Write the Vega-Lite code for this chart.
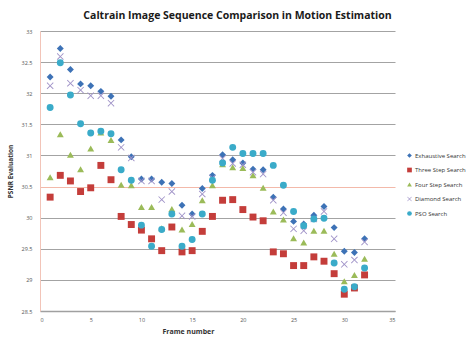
{
  "$schema": "https://vega.github.io/schema/vega-lite/v6.json",
  "width": 355,
  "height": 280,
  "autosize": {"type": "none"},
  "padding": {"left": 40, "top": 31, "right": 79, "bottom": 34},
  "background": "white",
  "title": {
    "text": "Caltrain Image Sequence Comparison in Motion Estimation",
    "font": "Open Sans",
    "fontSize": 10.5,
    "fontWeight": "bold",
    "color": "#1a1a1a",
    "anchor": "middle",
    "dx": 20,
    "offset": 8
  },
  "config": {
    "view": {"stroke": null},
    "font": "Open Sans"
  },
  "datasets": {
    "wide": [
      {"frame": 1, "e": 32.26, "t": 30.33, "f": 30.65, "d": 32.12, "p": 31.77},
      {"frame": 2, "e": 32.72, "t": 30.68, "f": 31.34, "d": 32.59, "p": 32.49},
      {"frame": 3, "e": 32.38, "t": 30.59, "f": 31.01, "d": 32.16, "p": 31.97},
      {"frame": 4, "e": 32.15, "t": 30.42, "f": 30.78, "d": 32.05, "p": 31.51},
      {"frame": 5, "e": 32.12, "t": 30.48, "f": 31.11, "d": 31.96, "p": 31.36},
      {"frame": 6, "e": 32.03, "t": 30.84, "f": 31.37, "d": 31.96, "p": 31.39},
      {"frame": 7, "e": 31.95, "t": 30.61, "f": 31.25, "d": 31.84, "p": 31.35},
      {"frame": 8, "e": 31.25, "t": 30.02, "f": 30.53, "d": 31.13, "p": 30.77},
      {"frame": 9, "e": 30.98, "t": 29.89, "f": 30.52, "d": 30.96, "p": 30.60},
      {"frame": 10, "e": 30.62, "t": 29.80, "f": 30.17, "d": 30.59, "p": 29.88},
      {"frame": 11, "e": 30.62, "t": 29.66, "f": 30.17, "d": 30.59, "p": 29.54},
      {"frame": 12, "e": 30.57, "t": 29.47, "f": 29.83, "d": 30.29, "p": 29.81},
      {"frame": 13, "e": 30.55, "t": 29.85, "f": 30.14, "d": 30.42, "p": 30.06},
      {"frame": 14, "e": 30.20, "t": 29.45, "f": 29.81, "d": 30.03, "p": 29.54},
      {"frame": 15, "e": 30.06, "t": 29.47, "f": 29.90, "d": 30.02, "p": 29.65},
      {"frame": 16, "e": 30.47, "t": 29.78, "f": 30.28, "d": 30.38, "p": 30.06},
      {"frame": 17, "e": 30.68, "t": 30.02, "f": 30.52, "d": 30.64, "p": 30.60},
      {"frame": 18, "e": 31.01, "t": 30.28, "f": 30.86, "d": 30.95, "p": 30.88},
      {"frame": 19, "e": 30.93, "t": 30.29, "f": 30.81, "d": 30.87, "p": 31.13},
      {"frame": 20, "e": 30.88, "t": 30.13, "f": 30.80, "d": 30.85, "p": 31.03},
      {"frame": 21, "e": 30.78, "t": 30.01, "f": 30.68, "d": 30.73, "p": 31.03},
      {"frame": 22, "e": 30.77, "t": 29.95, "f": 30.48, "d": 30.70, "p": 31.03},
      {"frame": 23, "e": 30.33, "t": 29.45, "f": 30.10, "d": 30.28, "p": 30.84},
      {"frame": 24, "e": 30.14, "t": 29.42, "f": 29.97, "d": 30.08, "p": 30.52},
      {"frame": 25, "e": 29.94, "t": 29.23, "f": 29.67, "d": 29.82, "p": 30.10},
      {"frame": 26, "e": 29.90, "t": 29.23, "f": 29.60, "d": 29.79, "p": 29.87},
      {"frame": 27, "e": 30.04, "t": 29.37, "f": 29.79, "d": 29.98, "p": 29.98},
      {"frame": 28, "e": 30.18, "t": 29.30, "f": 29.79, "d": 30.10, "p": 29.99},
      {"frame": 29, "e": 29.84, "t": 29.10, "f": 29.42, "d": 29.66, "p": 29.27},
      {"frame": 30, "e": 29.46, "t": 28.77, "f": 28.98, "d": 29.25, "p": 28.85},
      {"frame": 31, "e": 29.44, "t": 28.87, "f": 29.08, "d": 29.32, "p": 28.89},
      {"frame": 32, "e": 29.66, "t": 29.08, "f": 29.34, "d": 29.61, "p": 29.19}
    ]
  },
  "data": {"name": "wide"},
  "transform": [
    {"fold": ["e", "t", "f", "d", "p"], "as": ["key", "psnr"]},
    {"lookup": "key", "from": {"data": {"values": [
      {"key": "e", "method": "Exhaustive Search", "ord": 0},
      {"key": "t", "method": "Three Step Search", "ord": 1},
      {"key": "f", "method": "Four Step Search", "ord": 2},
      {"key": "d", "method": "Diamond Search", "ord": 3},
      {"key": "p", "method": "PSO Search", "ord": 4}
    ]}, "key": "key", "fields": ["method", "ord"]}}
  ],
  "mark": {"type": "point", "filled": true, "opacity": 1, "size": 48},
  "encoding": {
    "x": {
      "field": "frame",
      "type": "quantitative",
      "scale": {"domain": [0, 35], "nice": false, "zero": false},
      "axis": {
        "values": [0, 5, 10, 15, 20, 25, 30, 35],
        "title": "Frame number",
        "titleFont": "Open Sans",
        "titleFontSize": 7,
        "titleFontWeight": "bold",
        "titleColor": "#333",
        "titlePadding": 5,
        "titleX": 122,
        "titleAnchor": "start",
        "labelFontSize": 5.5,
        "labelColor": "#555",
        "labelPadding": 6,
        "grid": false,
        "ticks": false,
        "domainColor": "#a0a0a0",
        "domainWidth": 1.5
      }
    },
    "y": {
      "field": "psnr",
      "type": "quantitative",
      "scale": {"domain": [28.5, 33], "nice": false, "zero": false},
      "axis": {
        "values": [28.5, 29, 29.5, 30, 30.5, 31, 31.5, 32, 32.5, 33],
        "format": "~r",
        "title": "PSNR Evaluation",
        "titleFont": "Open Sans",
        "titleFontSize": 6.5,
        "titleFontWeight": "bold",
        "titleColor": "#333",
        "titlePadding": 8,
        "labelFontSize": 5.5,
        "labelColor": "#555",
        "labelPadding": 8,
        "ticks": false,
        "domainColor": "#f2c4b8",
        "grid": true,
        "gridColor": {"condition": {"test": "datum.value === 30.5", "value": "#f3b9aa"}, "value": "#a3a3a3"},
        "gridWidth": 1.2
      }
    },
    "color": {
      "field": "method",
      "type": "nominal",
      "sort": ["Exhaustive Search", "Three Step Search", "Four Step Search", "Diamond Search", "PSO Search"],
      "scale": {
        "domain": ["Exhaustive Search", "Three Step Search", "Four Step Search", "Diamond Search", "PSO Search"],
        "range": ["#3d72b6", "#c43d3a", "#9bbb59", "#a093c8", "#3aabc9"]
      },
      "legend": {
        "title": null,
        "orient": "none",
        "legendX": 366,
        "legendY": 121,
        "labelFontSize": 6,
        "labelColor": "#333",
        "symbolSize": 22,
        "rowPadding": 7.5,
        "labelOffset": 2
      }
    },
    "shape": {
      "field": "method",
      "type": "nominal",
      "scale": {
        "domain": ["Exhaustive Search", "Three Step Search", "Four Step Search", "Diamond Search", "PSO Search"],
        "range": ["diamond", "square", "triangle-up", "M-1,-0.82L-0.82,-1L0,-0.18L0.82,-1L1,-0.82L0.18,0L1,0.82L0.82,1L0,0.18L-0.82,1L-1,0.82L-0.18,0Z", "circle"]
      },
      "legend": null
    },
    "order": {"field": "ord", "type": "quantitative"}
  }
}
